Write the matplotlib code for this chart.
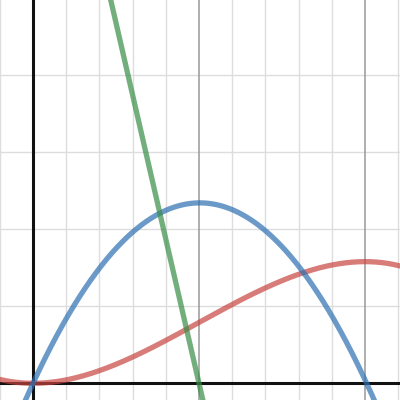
import numpy as np
import matplotlib
matplotlib.use("Agg")
import matplotlib.pyplot as plt

# view window (x: major 1, minor 0.2 ; y: minor 1)
x_range = [-0.199, 2.211]
y_range = [-0.217, 4.978]

# blue parabola: roots and height factor
blue_roots = [0.0, 2.01]
blue_k = 2.32
# red cubic: coefficients of x^3, x^2, x, 1
red_coef = [-0.395, 1.185, 0.0, 0.0]
# green line: x-intercept and slope
green_x0 = 1.0
green_slope = -9.36

blue = "#2d70b3"
red = "#c74440"
green = "#388c46"

fig = plt.figure(figsize=(4, 4), dpi=100)
ax = fig.add_axes([0, 0, 1, 1])
ax.set_xlim(x_range)
ax.set_ylim(y_range)

# grid
for gx in np.arange(-0.2, 2.3, 0.2):
    if abs(gx - round(gx)) < 1e-6:
        ax.axvline(gx, color="#999999", lw=1.1, zorder=1)
    else:
        ax.axvline(gx, color="#dddddd", lw=1.0, zorder=0)
for gy in range(1, 5):
    ax.axhline(gy, color="#dddddd", lw=1.0, zorder=0)

# axes
ax.axhline(0, color="#111111", lw=2.2, zorder=2)
ax.axvline(0, color="#111111", lw=2.2, zorder=2)

x = np.linspace(x_range[0], x_range[1], 600)
ax.plot(x, np.polyval(red_coef, x), color=red, alpha=0.7, lw=3.8, zorder=3,
        solid_capstyle="round")
ax.plot(x, blue_k * (x - blue_roots[0]) * (blue_roots[1] - x), color=blue,
        alpha=0.7, lw=3.8, zorder=4)
ax.plot(x, green_slope * (x - green_x0), color=green, alpha=0.7, lw=3.8,
        zorder=5)

ax.set_xticks([])
ax.set_yticks([])
for s in ax.spines.values():
    s.set_visible(False)

fig.savefig("out.png", dpi=100)
